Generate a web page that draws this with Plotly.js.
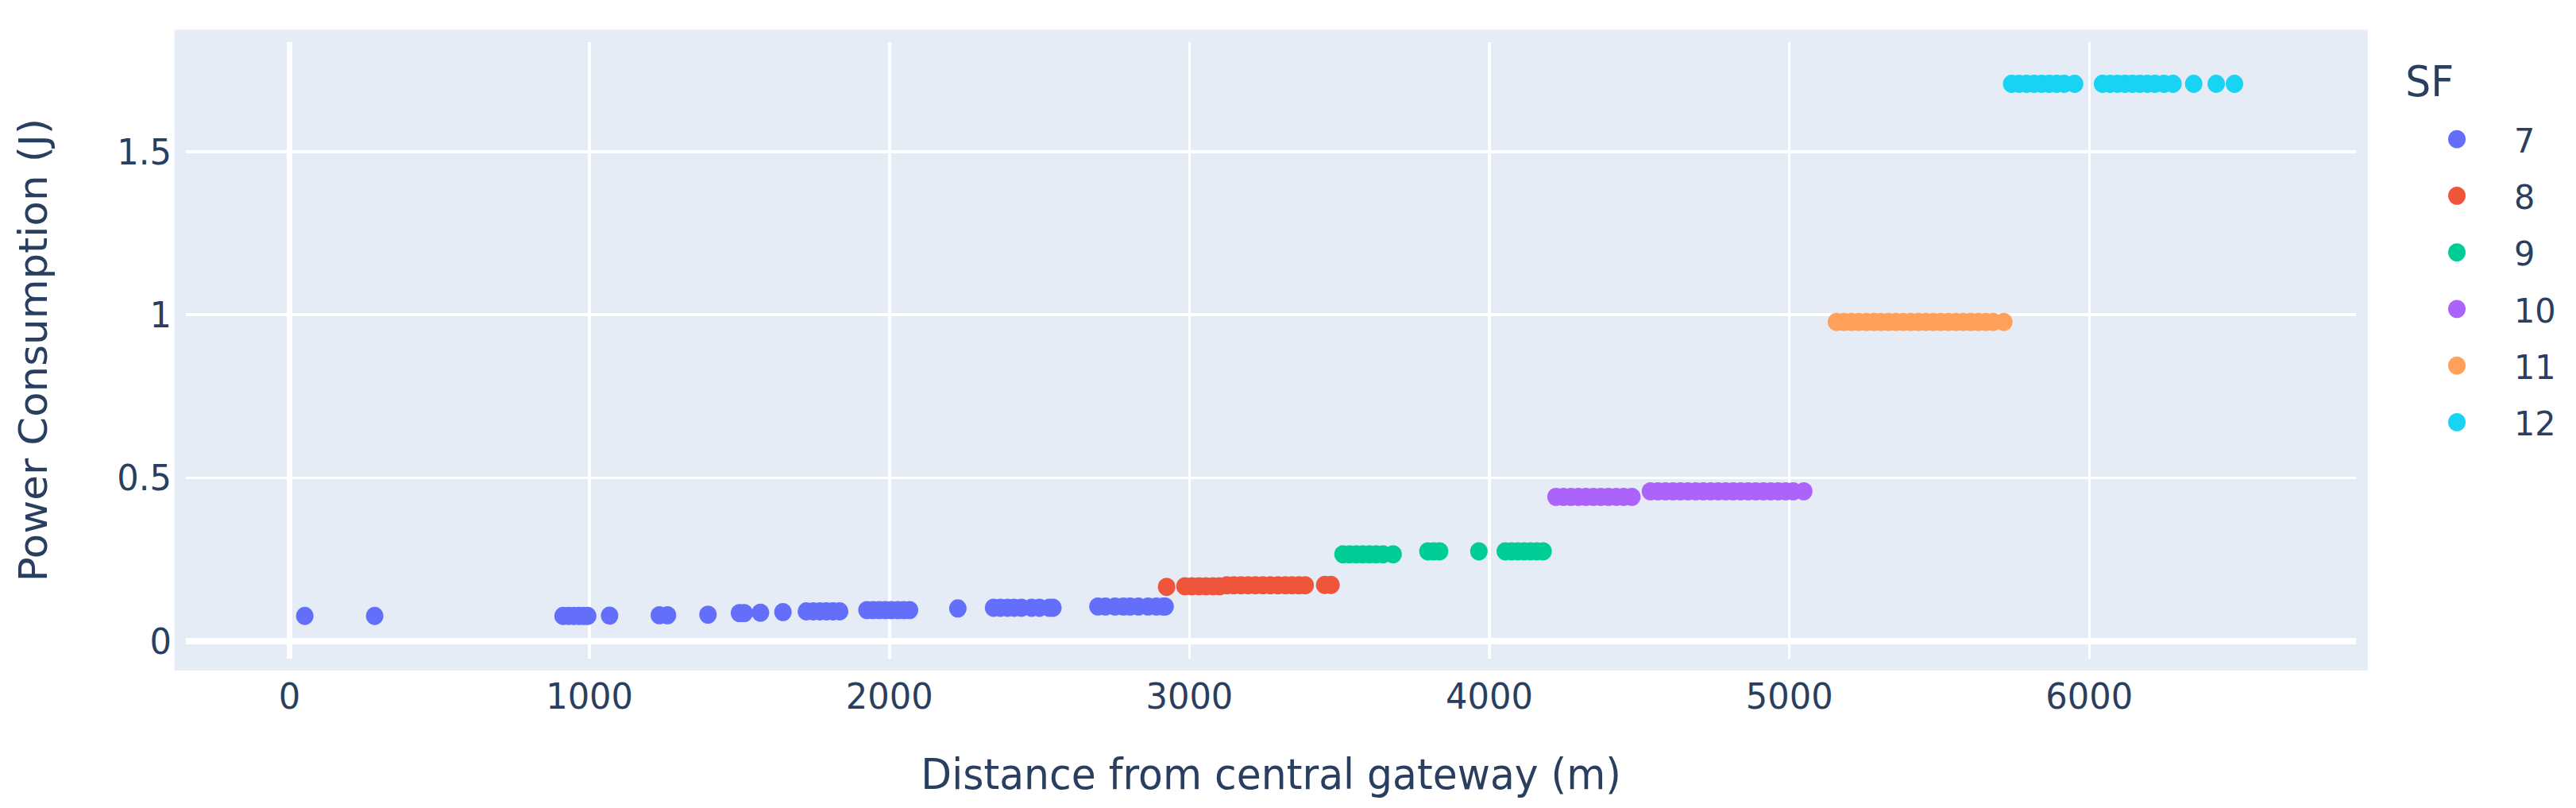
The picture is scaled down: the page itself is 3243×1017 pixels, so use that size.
<!DOCTYPE html>
<html>
<head>
<meta charset="utf-8">
<script src="https://cdn.plot.ly/plotly-3.0.1.min.js"></script>
<style>
html,body{margin:0;padding:0;background:#fff;overflow:hidden;}
#wrap{width:3243px;height:1017px;overflow:hidden;position:relative;}
#plot{width:900.83px;height:271.2px;transform:scale(3.6,3.75);transform-origin:0 0;position:absolute;left:0;top:0;}
</style>
</head>
<body>
<div id="wrap"><div id="plot"></div></div>
<script>
// Spreading factor groups
const sfNames = ["7", "8", "9", "10", "11", "12"];
const sfColors = ["#636efa", "#EF553B", "#00cc96", "#ab63fa", "#FFA15A", "#19d3f3"];

const sf7_x = [51, 284, 912, 930, 948, 965, 980, 994, 1067, 1233, 1260, 1395, 1500, 1516, 1570, 1645,
  1723, 1745, 1768, 1790, 1812, 1834, 1925, 1945, 1966, 1986, 2006, 2028, 2048, 2067, 2228,
  2347, 2370, 2394, 2415, 2440, 2474, 2500, 2533, 2545, 2695, 2720, 2752, 2780, 2802, 2830, 2862, 2890, 2913, 2919];
const sf7_y = [0.077, 0.077, 0.077, 0.077, 0.077, 0.077, 0.077, 0.077, 0.078, 0.079, 0.079, 0.081, 0.086, 0.086, 0.087, 0.089,
  0.091, 0.091, 0.091, 0.091, 0.091, 0.091, 0.095, 0.095, 0.095, 0.095, 0.095, 0.095, 0.095, 0.095, 0.100,
  0.102, 0.102, 0.102, 0.102, 0.102, 0.102, 0.102, 0.102, 0.102, 0.106, 0.106, 0.106, 0.106, 0.106, 0.106, 0.106, 0.106, 0.106, 0.106];

const sf8_x = [2924, 2985, 3008, 3032, 3055, 3078, 3100, 3125, 3148, 3172, 3196, 3220, 3245, 3270, 3295, 3320, 3342, 3365, 3386, 3451, 3472];
const sf8_y = [0.166, 0.168, 0.168, 0.168, 0.168, 0.168, 0.168, 0.171, 0.171, 0.171, 0.171, 0.171, 0.171, 0.171, 0.171, 0.171, 0.171, 0.171, 0.171, 0.172, 0.172];

const sf9_x = [3512, 3534, 3556, 3578, 3600, 3622, 3645, 3679, 3795, 3815, 3834, 3965, 4053, 4074, 4095, 4116, 4137, 4158, 4179];
const sf9_y = [0.266, 0.266, 0.266, 0.266, 0.266, 0.266, 0.266, 0.266, 0.275, 0.275, 0.275, 0.275, 0.275, 0.275, 0.275, 0.275, 0.275, 0.275, 0.275];

const sf10_x = [4222, 4247, 4272, 4297, 4322, 4347, 4372, 4397, 4422, 4448, 4475,
  4537, 4562, 4587, 4612, 4637, 4662, 4688, 4713, 4738, 4763, 4788, 4813, 4838, 4863, 4888, 4913, 4938, 4963, 4988, 5013, 5048];
const sf10_y = [0.442, 0.442, 0.442, 0.442, 0.442, 0.442, 0.442, 0.442, 0.442, 0.442, 0.442,
  0.459, 0.459, 0.459, 0.459, 0.459, 0.459, 0.459, 0.459, 0.459, 0.459, 0.459, 0.459, 0.459, 0.459, 0.459, 0.459, 0.459, 0.459, 0.459, 0.459, 0.459];

const sf11_x = [5157, 5182, 5207, 5232, 5257, 5282, 5305, 5330, 5355, 5380, 5405, 5430, 5455, 5480, 5505, 5530, 5555, 5580, 5605, 5630, 5655, 5680, 5715];
const sf11_y = [0.978, 0.978, 0.978, 0.978, 0.978, 0.978, 0.978, 0.978, 0.978, 0.978, 0.978, 0.978, 0.978, 0.978, 0.978, 0.978, 0.978, 0.978, 0.978, 0.978, 0.978, 0.978, 0.978];

const sf12_x = [5741, 5766, 5791, 5816, 5841, 5866, 5891, 5916, 5951, 6044, 6069, 6094, 6119, 6144, 6169, 6194, 6219, 6249, 6279, 6348, 6423, 6484];
const sf12_y = [1.708, 1.708, 1.708, 1.708, 1.708, 1.708, 1.708, 1.708, 1.708, 1.708, 1.708, 1.708, 1.708, 1.708, 1.708, 1.708, 1.708, 1.708, 1.708, 1.708, 1.708, 1.708];

const xTickVals = [0, 1000, 2000, 3000, 4000, 5000, 6000];
const yTickVals = [0, 0.5, 1, 1.5];
const yTickText = ['0', '0.5', '1', '1.5'];

const seriesX = [sf7_x, sf8_x, sf9_x, sf10_x, sf11_x, sf12_x];
const seriesY = [sf7_y, sf8_y, sf9_y, sf10_y, sf11_y, sf12_y];

const traces = sfNames.map((name, i) => ({
  type: 'scatter',
  mode: 'markers',
  name: name,
  x: seriesX[i],
  y: seriesY[i],
  marker: {color: sfColors[i], size: 6.1, symbol: 'circle'},
  showlegend: true
}));

const layout = {
  width: 900.83,
  height: 271.2,
  margin: {l: 65, r: 76.67, t: 14.05, b: 49.95, pad: 4, autoexpand: false},
  paper_bgcolor: '#ffffff',
  plot_bgcolor: '#E5ECF6',
  font: {family: 'DejaVu Sans, sans-serif', size: 12, color: '#2a3f5f'},
  xaxis: {
    range: [-345.5, 6890],
    tickvals: xTickVals,
    ticktext: xTickVals.map(String),
    showgrid: true, gridcolor: '#ffffff', gridwidth: 1,
    zeroline: true, zerolinecolor: '#ffffff', zerolinewidth: 2,
    ticks: '', showline: false,
    title: {text: 'Distance from central gateway (m)', font: {size: 14}, standoff: 18.5}
  },
  yaxis: {
    range: [-0.0533, 1.837],
    tickvals: yTickVals,
    ticktext: yTickText,
    showgrid: true, gridcolor: '#ffffff', gridwidth: 1,
    zeroline: true, zerolinecolor: '#ffffff', zerolinewidth: 2,
    ticks: '', showline: false,
    title: {text: 'Power Consumption (J)', font: {size: 13.7}, standoff: 24.2}
  },
  legend: {
    title: {text: 'SF', font: {size: 14}},
    x: 1.02, y: 1, xanchor: 'left', yanchor: 'top',
    font: {size: 11.5},
    bgcolor: 'rgba(0,0,0,0)'
  },
  showlegend: true
};

Plotly.newPlot('plot', traces, layout, {staticPlot: true, displayModeBar: false});
</script>
</body>
</html>
